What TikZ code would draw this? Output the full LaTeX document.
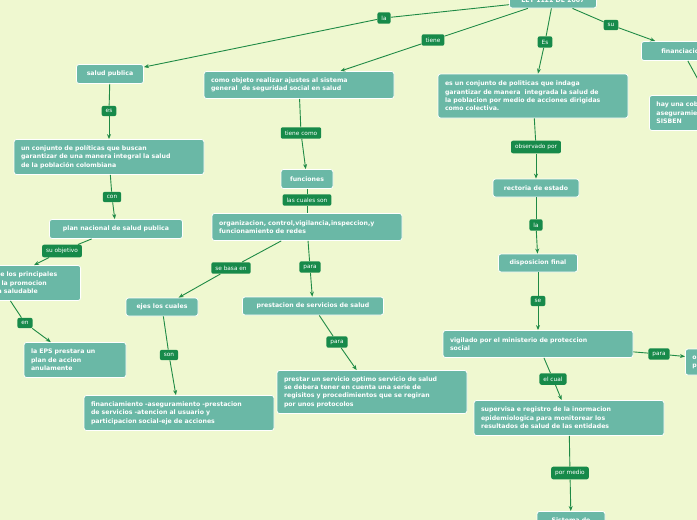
\documentclass[tikz,border=0pt]{standalone}
\usepackage{fontspec}
\setmainfont{DejaVu Sans}
\usetikzlibrary{arrows.meta}
\definecolor{bg}{HTML}{EFF8D0}
\definecolor{boxc}{HTML}{6AB8A6}
\definecolor{lblc}{HTML}{178A4A}
\definecolor{linec}{HTML}{1F8A45}
\tikzset{
 box/.style={fill=boxc,draw=white,line width=0.8pt,rounded corners=2.5pt,text=white,font=\bfseries\fontsize{6.2}{8.4}\selectfont,align=left,inner xsep=7pt,inner ysep=3.5pt},
 lbl/.style={fill=lblc,rounded corners=2pt,text=white,font=\fontsize{5.8}{7}\selectfont,inner xsep=4pt,inner ysep=3.5pt},
 con/.style={draw=linec,line width=0.9pt},
 arr/.style={con,-{Stealth[length=5pt,width=4pt]}}
}
\begin{document}
\begin{tikzpicture}[x=1pt,y=-1pt]
\fill[bg] (0,0) rectangle (697,520);
\useasboundingbox (0,0) rectangle (697,520);
\clip (0,0) rectangle (697,520);
% boxes
\node[box,minimum width=87,minimum height=16] (ley) at (553,0) {LEY 1122 DE 2007};
\node[box,minimum width=67,minimum height=19] (sp) at (110,74) {salud publica};
\node[box,text width=176,minimum height=27] (obj) at (299,85) {como objeto realizar ajustes al sistema\\general\ \ de seguridad social en salud};
\node[box,text width=176,minimum height=44] (esc) at (533,96) {es un conjunto de politicas que indaga\\garantizar de manera\ \ integrada la salud de\\la poblacion por medio de acciones dirigidas\\como colectiva.};
\node[box,minimum width=82,minimum height=19,anchor=west] (fin) at (641,51) {financiacion};
\node[box,text width=120,minimum height=35,anchor=west] (hay) at (649,113) {hay una cobertura de\\aseguramiento por el\\SISBEN};
\node[box,text width=176,minimum height=35] (uc) at (109,157) {un conjunto de políticas que buscan\\garantizar de una manera integral la salud\\de la población colombiana};
\node[box,minimum width=52,minimum height=19] (fun) at (307,179) {funciones};
\node[box,minimum width=86,minimum height=18] (rec) at (536,188) {rectoria de estado};
\node[box,minimum width=133,minimum height=19] (pn) at (116,229) {plan nacional de salud publica};
\node[box,text width=176,minimum height=27] (org) at (307,227) {organizacion, control,vigilancia,inspeccion,y\\funcionamiento de redes};
\node[box,minimum width=79,minimum height=18] (dis) at (538,263) {disposicion final};
\node[box,text width=150,minimum height=35,anchor=east] (obj2) at (81,283) {reducir la inequidad de los principales\\\hspace*{3pt}problemas de salud , la promocion\\\hspace*{17pt}de estilos de vida saludable};
\node[box,minimum width=72,minimum height=18] (ejes) at (162,307) {ejes los cuales};
\node[box,minimum width=141,minimum height=18] (pss) at (313,306) {prestacion de servicios de salud};
\node[box,text width=176,minimum height=27] (vig) at (538,344) {vigilado por el ministerio de proteccion\\social};
\node[box,text width=100,minimum height=26,anchor=west] (org2) at (685,362) {organismos\\publicos};
\node[box,text width=88,minimum height=35] (eps) at (75,360) {la EPS prestara un\\plan de accion\\anulamente};
\node[box,text width=176,minimum height=35] (finm) at (179,413) {financiamiento -aseguramiento -prestacion\\de servicios -atencion al usuario y\\participacion social-eje de acciones};
\node[box,text width=176,minimum height=43] (pre) at (372,392) {prestar un servicio optimo servicio de salud\\se debera tener en cuenta una serie de\\regisitos y procedimientos que se regiran\\por unos protocolos};
\node[box,text width=176,minimum height=35] (sup) at (569,418) {supervisa e registro de la inormacion\\epidemiologica para monitorear los\\resultados de salud de las entidades};
\node[box,minimum width=68,minimum height=18,anchor=north] (sis) at (571,511) {Sistema de};
% labels
\node[lbl] (l1) at (384,18) {la};
\node[lbl] (l2) at (433,40) {tiene};
\node[lbl] (l3) at (545,42) {Es};
\node[lbl] (l4) at (611,25) {su};
\node[lbl] (l5) at (109,111) {es};
\node[lbl] (l6) at (301,133) {tiene como};
\node[lbl] (l7) at (536,147) {observado por};
\node[lbl] (l8) at (112,197) {con};
\node[lbl] (l9) at (307,200) {las cuales son};
\node[lbl] (l10) at (536,225) {la};
\node[lbl] (l11) at (62,251) {su objetivo};
\node[lbl] (l12) at (231,268) {se basa en};
\node[lbl] (l13) at (310,267) {para};
\node[lbl] (l14) at (538,301) {se};
\node[lbl] (l15) at (25,323) {en};
\node[lbl] (l16) at (169,355) {son};
\node[lbl] (l17) at (337,342) {para};
\node[lbl] (l18) at (553,379) {el cual};
\node[lbl] (l19) at (659,354) {para};
\node[lbl] (l20) at (570,473) {por medio};
% connectors
\draw[con] (ley) -- (l1); \draw[arr] (l1) -- (sp);
\draw[con] (ley) -- (l2); \draw[arr] (l2) -- (obj);
\draw[con] (ley) -- (l3); \draw[arr] (l3) -- (esc);
\draw[con] (ley) -- (l4); \draw[arr] (l4) -- (fin);
\draw[arr] (fin) -- (hay);
\draw[con] (sp) -- (l5); \draw[arr] (l5) -- (uc);
\draw[con] (obj) -- (l6); \draw[arr] (l6) -- (fun);
\draw[con] (esc) -- (l7); \draw[arr] (l7) -- (rec);
\draw[con] (uc) -- (l8); \draw[arr] (l8) -- (pn);
\draw[con] (fun) -- (l9); \draw[con] (l9) -- (org);
\draw[con] (rec) -- (l10); \draw[arr] (l10) -- (dis);
\draw[con] (pn) -- (l11); \draw[arr] (l11) -- (obj2);
\draw[con] (org) -- (l12); \draw[arr] (l12) -- (ejes);
\draw[con] (org) -- (l13); \draw[arr] (l13) -- (pss);
\draw[con] (dis) -- (l14); \draw[arr] (l14) -- (vig);
\draw[con] (obj2) -- (l15); \draw[arr] (l15) -- (eps);
\draw[con] (ejes) -- (l16); \draw[arr] (l16) -- (finm);
\draw[con] (pss) -- (l17); \draw[arr] (l17) -- (pre);
\draw[con] (vig) -- (l18); \draw[arr] (l18) -- (sup);
\draw[con] (vig) -- (l19); \draw[arr] (l19) -- (org2);
\draw[con] (sup) -- (l20); \draw[arr] (l20) -- (sis);
\end{tikzpicture}
\end{document}
